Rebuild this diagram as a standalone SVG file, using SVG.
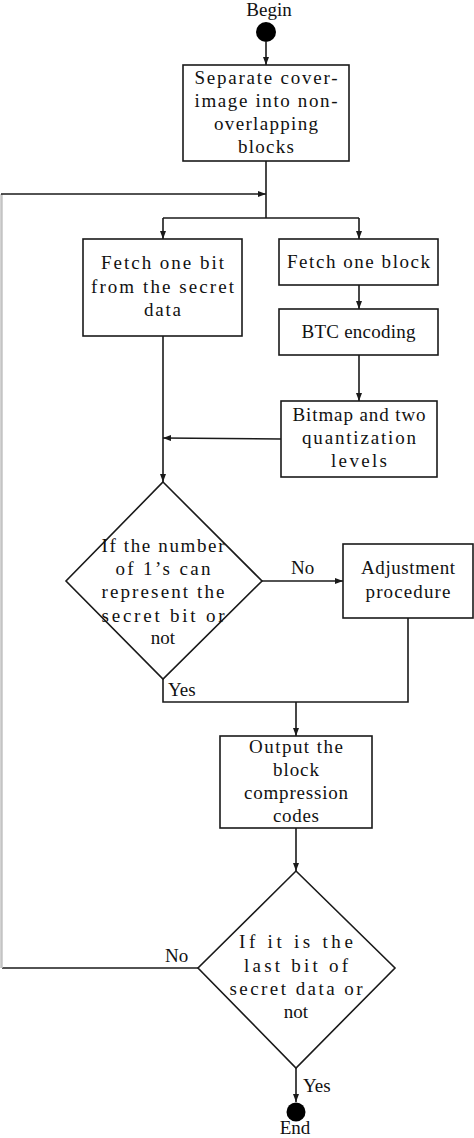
<svg xmlns="http://www.w3.org/2000/svg" width="474" height="1138" viewBox="0 0 474 1138">
<style>
  .box{fill:#fff;stroke:#1a1a1a;stroke-width:1.6}
  .ln{fill:none;stroke:#1a1a1a;stroke-width:1.6}
  .t{font-family:"Liberation Serif","Times New Roman",serif;font-size:19px;fill:#111;text-anchor:middle}
  .l{font-family:"Liberation Serif","Times New Roman",serif;font-size:19px;fill:#111}
</style>
<defs>
  <marker id="arr" markerWidth="8" markerHeight="6" refX="8" refY="3" orient="auto" markerUnits="userSpaceOnUse">
    <path d="M0,0 L8,3 L0,6 z" fill="#1a1a1a"/>
  </marker>
</defs>
<rect width="474" height="1138" fill="#fff"/>

<g id="connectors">
  <line class="ln" x1="266" y1="42" x2="266" y2="65" marker-end="url(#arr)"/>
  <line class="ln" x1="266" y1="161" x2="266" y2="218"/>
  <polyline class="ln" points="198,968 2,968"/>
  <line x1="1.5" y1="968" x2="1.5" y2="194" stroke="#c4c4c4" stroke-width="2.5"/>
  <line class="ln" x1="1" y1="194" x2="266" y2="194" marker-end="url(#arr)"/>
  <line class="ln" x1="163" y1="218" x2="359" y2="218"/>
  <line class="ln" x1="163" y1="218" x2="163" y2="239" marker-end="url(#arr)"/>
  <line class="ln" x1="359" y1="218" x2="359" y2="239" marker-end="url(#arr)"/>
  <line class="ln" x1="359" y1="285" x2="359" y2="309" marker-end="url(#arr)"/>
  <line class="ln" x1="359" y1="355" x2="359" y2="401" marker-end="url(#arr)"/>
  <line class="ln" x1="281" y1="439" x2="163" y2="438" marker-end="url(#arr)"/>
  <line class="ln" x1="163" y1="336" x2="163" y2="482" marker-end="url(#arr)"/>
  <line class="ln" x1="262" y1="581" x2="343" y2="581" marker-end="url(#arr)"/>
  <polyline class="ln" points="163,679 163,702 408,702 408,618"/>
  <line class="ln" x1="296" y1="702" x2="296" y2="736" marker-end="url(#arr)"/>
  <line class="ln" x1="296" y1="828" x2="296" y2="871" marker-end="url(#arr)"/>
  <line class="ln" x1="296" y1="1068" x2="296" y2="1102" marker-end="url(#arr)"/>
  <text class="l" x="291" y="574">No</text>
  <text class="l" x="168" y="696">Yes</text>
  <text class="l" x="165" y="962">No</text>
  <text class="l" x="303" y="1092">Yes</text>
</g>

<g id="begin">
  <text class="t" x="269" y="16">Begin</text>
  <circle cx="266" cy="32" r="10" fill="#000"/>
</g>

<g id="separate">
  <rect class="box" x="183" y="65" width="166" height="96"/>
  <text class="t" x="266" y="84" textLength="143">Separate cover-</text>
  <text class="t" x="266" y="107" textLength="143">image into non-</text>
  <text class="t" x="266" y="130" textLength="104">overlapping</text>
  <text class="t" x="266" y="153" textLength="56">blocks</text>
</g>

<g id="fetch-bit">
  <rect class="box" x="83" y="239" width="159" height="97"/>
  <text class="t" x="162.5" y="269" textLength="123">Fetch one bit</text>
  <text class="t" x="162.5" y="293" textLength="143">from the secret</text>
  <text class="t" x="162.5" y="316" textLength="37">data</text>
</g>

<g id="fetch-block">
  <rect class="box" x="279" y="239" width="159" height="46"/>
  <text class="t" x="358.5" y="268" textLength="143">Fetch one block</text>
</g>

<g id="btc">
  <rect class="box" x="279" y="309" width="159" height="46"/>
  <text class="t" x="358.5" y="338" textLength="114">BTC encoding</text>
</g>

<g id="bitmap">
  <rect class="box" x="281" y="401" width="156" height="76"/>
  <text class="t" x="359" y="421" textLength="133">Bitmap and two</text>
  <text class="t" x="359" y="444" textLength="114">quantization</text>
  <text class="t" x="359" y="467" textLength="56">levels</text>
</g>

<g id="decision1">
  <polygon class="box" points="163,482 262,581 163,679 66,581"/>
  <text class="t" x="163" y="552" textLength="123">If the number</text>
  <text class="t" x="163" y="575" textLength="95">of 1’s can</text>
  <text class="t" x="163" y="598" textLength="123">represent the</text>
  <text class="t" x="163" y="622" textLength="123">secret bit or</text>
  <text class="t" x="163" y="644">not</text>
</g>

<g id="adjustment">
  <rect class="box" x="343" y="544" width="130" height="74"/>
  <text class="t" x="408" y="574" textLength="94">Adjustment</text>
  <text class="t" x="408" y="598" textLength="85">procedure</text>
</g>

<g id="output">
  <rect class="box" x="220" y="736" width="152" height="92"/>
  <text class="t" x="296" y="753" textLength="94">Output the</text>
  <text class="t" x="296" y="776" textLength="46">block</text>
  <text class="t" x="296" y="799" textLength="104">compression</text>
  <text class="t" x="296" y="822" textLength="46">codes</text>
</g>

<g id="decision2">
  <polygon class="box" points="296,871 395,968 296,1068 198,968"/>
  <text class="t" x="296" y="948" textLength="114">If it is the</text>
  <text class="t" x="296" y="972" textLength="104">last bit of</text>
  <text class="t" x="296" y="995" textLength="133">secret data or</text>
  <text class="t" x="296" y="1018">not</text>
</g>

<g id="end">
  <circle cx="296" cy="1112" r="9.5" fill="#000"/>
  <text class="t" x="295" y="1134">End</text>
</g>
</svg>
